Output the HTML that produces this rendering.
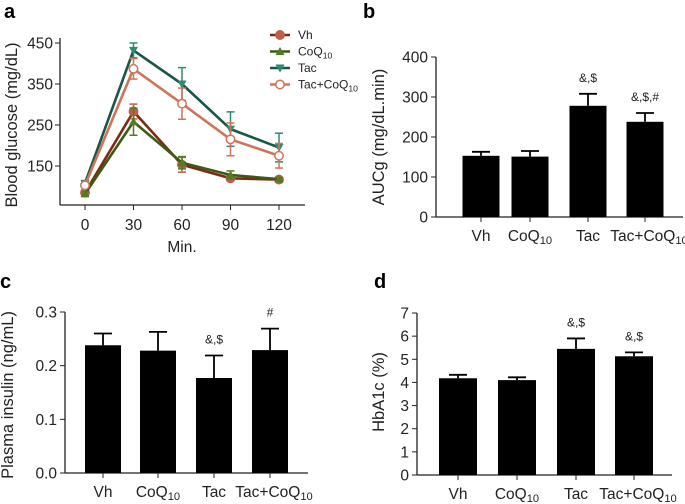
<!DOCTYPE html>
<html><head><meta charset="utf-8"><style>
html,body{margin:0;padding:0;background:#fff;width:685px;height:504px;overflow:hidden}
svg{display:block;font-family:"Liberation Sans",Arial,sans-serif}
</style></head><body>
<svg id="fig" width="685" height="504" viewBox="0 0 685 504"></svg>
<script>
// ---- Panel a data ----
const times = [0, 30, 60, 90, 120];
const seriesNames = ["Vh", "CoQ10", "Tac", "Tac+CoQ10"];
const vhVals = [85, 283, 153, 120, 117];
const vhErr = [5, 18, 18, 6, 4];
const coqVals = [82, 258, 158, 128, 118];
const coqErr = [5, 33, 15, 10, 4];
const tacVals = [108, 432, 350, 240, 195];
const tacErr = [5, 18, 40, 42, 35];
const tcVals = [103, 387, 302, 215, 175];
const tcErr = [5, 25, 38, 40, 30];
const aTicks = [150, 250, 350, 450];
// ---- bar panels ----
const groups = ["Vh", "CoQ10", "Tac", "Tac+CoQ10"];
const aucVals = [153, 151, 278, 238];
const aucErr = [10, 14, 30, 22];
const aucAnn = ["", "", "&,$", "&,$,#"];
const aucTicks = [0, 100, 200, 300, 400];
const insVals = [0.238, 0.228, 0.177, 0.229];
const insErr = [0.022, 0.035, 0.042, 0.04];
const insAnn = ["", "", "&,$", "#"];
const insTicks = [0.0, 0.1, 0.2, 0.3];
const hbaVals = [4.18, 4.1, 5.45, 5.13];
const hbaErr = [0.15, 0.12, 0.45, 0.17];
const hbaAnn = ["", "", "&,$", "&,$"];
const hbaTicks = [0, 1, 2, 3, 4, 5, 6, 7];

const svg = document.getElementById('fig');
const NS = 'http://www.w3.org/2000/svg';
function el(tag, attrs, parent) {
  const e = document.createElementNS(NS, tag);
  for (const k in attrs) e.setAttribute(k, attrs[k]);
  (parent || svg).appendChild(e);
  return e;
}
function label(parent, x, y, txt, size, anchor, extra) {
  const t = el('text', Object.assign({x: x, y: y, 'font-size': size, 'text-anchor': anchor || 'middle', fill: '#222'}, extra || {}), parent);
  if (txt.endsWith('10') && txt.includes('CoQ')) {
    t.appendChild(document.createTextNode(txt.slice(0, -2)));
    const s = el('tspan', {'font-size': size * 0.72, dy: 3}, t);
    s.textContent = '10';
  } else t.textContent = txt;
  return t;
}

// ---- panel letters ----
[["a",4,18],["b",363,18],["c",0,288],["d",374,288]].forEach(p => {
  const t = el('text', {x: p[1], y: p[2], 'font-size': 20, 'font-weight': 'bold', fill: '#000'});
  t.textContent = p[0];
  
  
});

// ---- Panel a ----
(function () {
  const g = el('g', {});
  
  
  const X = v => 85 + v * (279 - 85) / 120;
  const Y = v => 166 - (v - 150) * 0.41;
  el('line', {x1: 60, y1: 38, x2: 60, y2: 205, stroke: '#222', 'stroke-width': 1.3}, g);
  el('line', {x1: 60, y1: 205, x2: 305, y2: 205, stroke: '#222', 'stroke-width': 1.3}, g);
  aTicks.forEach(v => {
    el('line', {x1: 55, y1: Y(v), x2: 60, y2: Y(v), stroke: '#222'}, g);
    const t = label(g, 53, Y(v) + 5.5, String(v), 15.5, 'end');
    
    
  });
  times.forEach(v => {
    el('line', {x1: X(v), y1: 205, x2: X(v), y2: 210, stroke: '#222'}, g);
    const t = label(g, X(v), 230, String(v), 15.5);
    
    
  });
  const xt = label(g, 182, 252, 'Min.', 15.5);
  
  
  const yt = label(g, 0, 0, 'Blood glucose (mg/dL)', 16.5, 'middle', {transform: 'translate(17,125) rotate(-90)'});
  
  

  const series = [
    {vals: vhVals, err: vhErr, line: '#7d2a12', mk: '#b86048', shape: 'circle', fill: true},
    {vals: coqVals, err: coqErr, line: '#3b5a14', mk: '#557a22', shape: 'tri', fill: true},
    {vals: tacVals, err: tacErr, line: '#1a5546', mk: '#2f8a72', shape: 'tridown', fill: true},
    {vals: tcVals, err: tcErr, line: '#d07458', mk: '#d07458', shape: 'circle', fill: false}
  ];
  function marker(par, s, x, y) {
    if (s.shape === 'circle') return el('circle', {cx: x, cy: y, r: 4.2, fill: s.fill ? s.mk : '#fff', stroke: s.mk, 'stroke-width': 1.5}, par);
    if (s.shape === 'tri') return el('polygon', {points: `${x},${y-4.5} ${x-4.5},${y+3.5} ${x+4.5},${y+3.5}`, fill: s.mk}, par);
    return el('polygon', {points: `${x},${y+4.5} ${x-4.5},${y-3.5} ${x+4.5},${y-3.5}`, fill: s.mk}, par);
  }
  series.forEach((s, si) => {
    const sg = el('g', {}, g);
    
    
    el('polyline', {points: times.map((t, i) => X(t) + ',' + Y(s.vals[i])).join(' '), fill: 'none', stroke: s.line, 'stroke-width': 2.6}, sg);
    times.forEach((t, i) => {
      const x = X(t), y1 = Y(s.vals[i] + s.err[i]), y2 = Y(s.vals[i] - s.err[i]);
      el('line', {x1: x, y1: y1, x2: x, y2: y2, stroke: s.mk, 'stroke-width': 1.5}, sg);
      el('line', {x1: x - 4, y1: y1, x2: x + 4, y2: y1, stroke: s.mk, 'stroke-width': 1.5}, sg);
      el('line', {x1: x - 4, y1: y2, x2: x + 4, y2: y2, stroke: s.mk, 'stroke-width': 1.5}, sg);
      const m = marker(sg, s, x, Y(s.vals[i]));
      
      
    });
  });
  // legend
  series.forEach((s, i) => {
    const ly = 35 + i * 16.5;
    const lg = el('g', {}, g);
    
    
    el('line', {x1: 270, y1: ly, x2: 290, y2: ly, stroke: s.line, 'stroke-width': 2.6}, lg);
    marker(lg, s, 280, ly);
    label(lg, 298, ly + 4, seriesNames[i], 12, 'start');
  });
})();

// ---- bar chart helper ----
function barChart(name, o) {
  const g = el('g', {});
  
  
  const Y = v => o.y0 - (v - o.ticks[0]) / (o.ticks[o.ticks.length - 1] - o.ticks[0]) * (o.y0 - o.yTop);
  el('line', {x1: o.ax, y1: o.yTop, x2: o.ax, y2: o.y0, stroke: '#222', 'stroke-width': 1.3}, g);
  el('line', {x1: o.ax, y1: o.y0, x2: o.axEnd, y2: o.y0, stroke: '#222', 'stroke-width': 1.3}, g);
  o.ticks.forEach(v => {
    el('line', {x1: o.ax - 5, y1: Y(v), x2: o.ax, y2: Y(v), stroke: '#222'}, g);
    const t = label(g, o.ax - 8, Y(v) + 5.5, o.fmt(v), 15.5, 'end');
    
    
  });
  o.vals.forEach((v, i) => {
    const c = o.centers[i], w = o.bw;
    const b = el('rect', {x: c - w / 2, y: Y(v), width: w, height: o.y0 - Y(v), fill: '#000'}, g);
    
    
    const ye = Y(v + o.err[i]);
    el('line', {x1: c, y1: Y(v), x2: c, y2: ye, stroke: '#000', 'stroke-width': 1.8}, g);
    el('line', {x1: c - 9, y1: ye, x2: c + 9, y2: ye, stroke: '#000', 'stroke-width': 1.8}, g);
    el('line', {x1: c, y1: o.y0, x2: c, y2: o.y0 + 5, stroke: '#222'}, g);
    if (o.ann[i]) {
      const a = label(g, c, ye - 12, o.ann[i], 12);
      
      
    }
    const xl = label(g, c + (i === 3 ? 4 : 0), o.y0 + 24, groups[i], 15.5);
    
    
  });
  const yt = label(g, 0, 0, o.title, 16.5, 'middle', {transform: `translate(${o.tx},${o.ty}) rotate(-90)`});
  
  
}
barChart('panel-b-auc-bar-chart', {ax: 436, axEnd: 683, y0: 217, yTop: 57, ticks: aucTicks, vals: aucVals, err: aucErr, ann: aucAnn,
  centers: [481, 530, 588, 645], bw: 37, fmt: v => String(v), title: 'AUCg (mg/dL.min)', tx: 384, ty: 137});
barChart('panel-c-insulin-bar-chart', {ax: 65, axEnd: 308, y0: 473, yTop: 312, ticks: insTicks, vals: insVals, err: insErr, ann: insAnn,
  centers: [103, 158, 214, 270], bw: 36, fmt: v => v.toFixed(1), title: 'Plasma insulin (ng/mL)', tx: 13, ty: 395});
barChart('panel-d-hba1c-bar-chart', {ax: 417, axEnd: 672, y0: 475, yTop: 313, ticks: hbaTicks, vals: hbaVals, err: hbaErr, ann: hbaAnn,
  centers: [458, 517, 576, 634], bw: 38, fmt: v => String(v), title: 'HbA1c (%)', tx: 384, ty: 392});
</script>
</body></html>
